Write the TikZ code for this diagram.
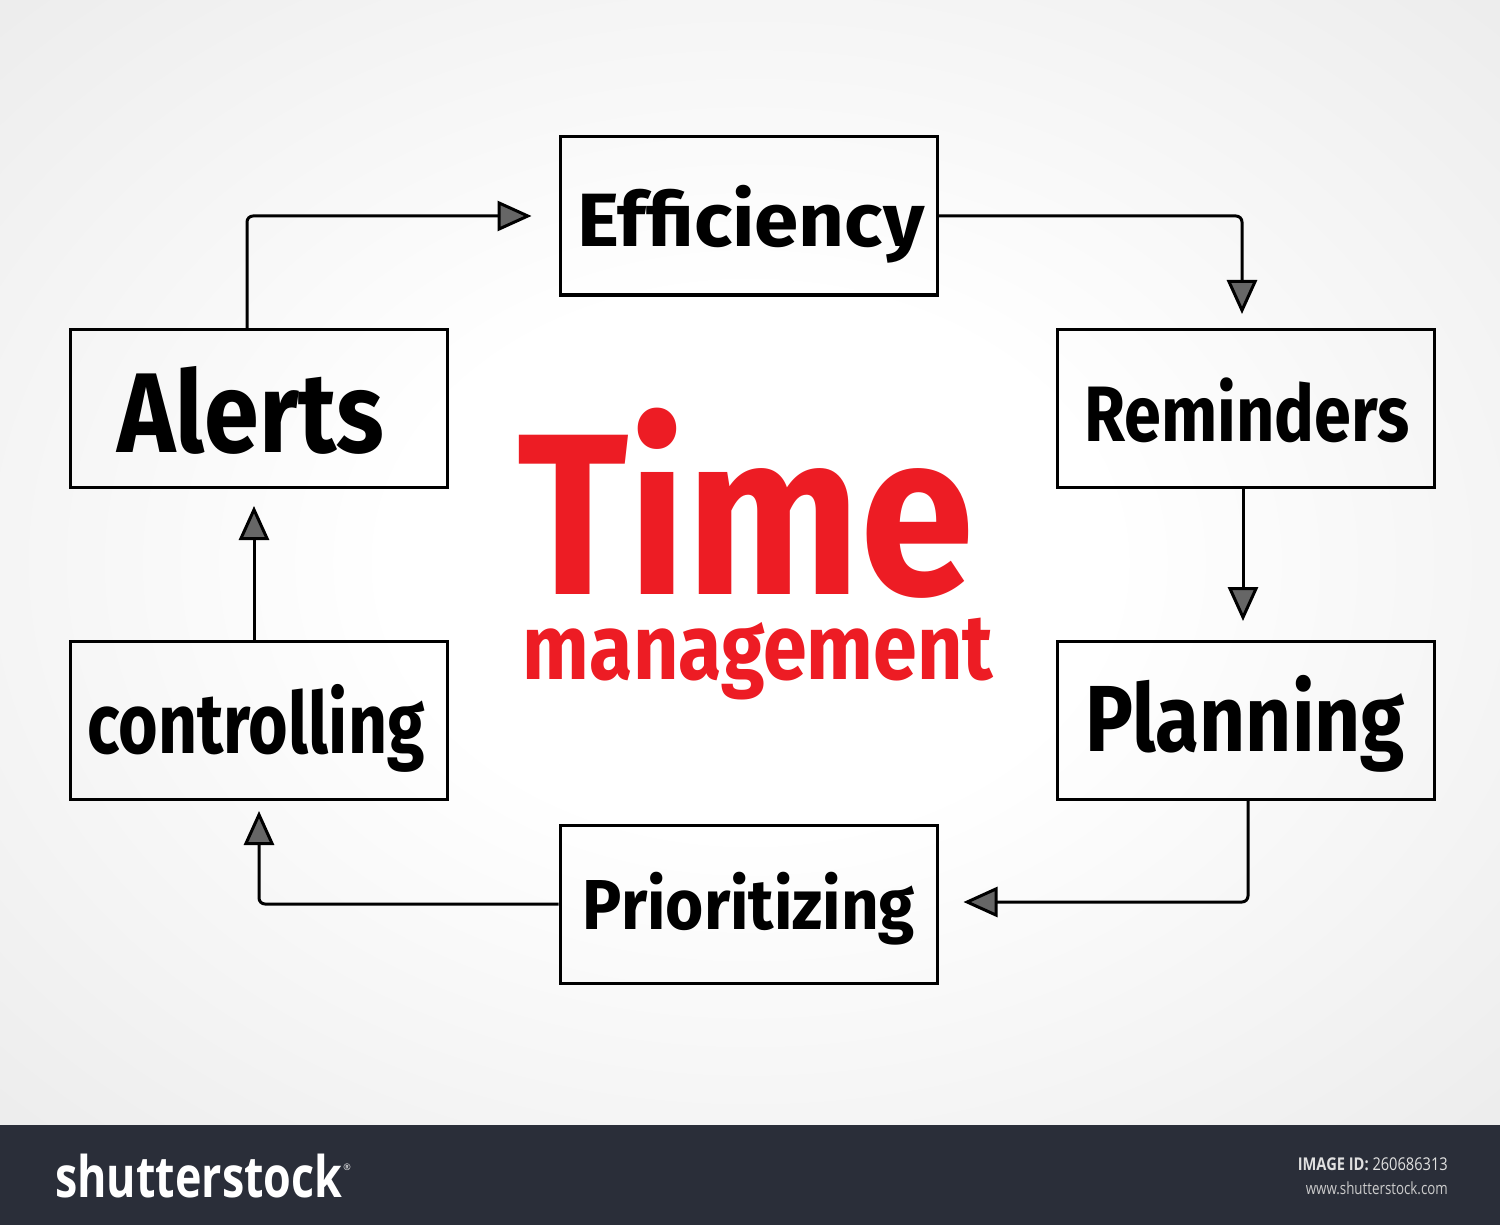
\documentclass[tikz,border=0pt]{standalone}
\usepackage{fontspec}
\usepackage{graphicx}
\setmainfont{Fira Sans}
\newfontfamily\bannerfont{Open Sans}
\usetikzlibrary{arrows.meta}
\definecolor{tmred}{RGB}{237,28,36}
\definecolor{bannerbg}{RGB}{42,46,57}
\definecolor{bgA}{RGB}{229,229,229}
\definecolor{bgB}{RGB}{226,226,226}
\pgfdeclareradialshading{bgshade}{\pgfpoint{0bp}{0bp}}{color(0bp)=(white); color(12bp)=(white); color(45bp)=(bgA); color(71bp)=(bgB)}
\newcommand{\fitbox}[3]{\resizebox*{#1pt}{#2pt}{#3}}
\begin{document}
\begin{tikzpicture}[x=1pt,y=-1pt,
  box/.style={draw=black, line width=3pt, minimum width=377pt, minimum height=158pt, inner sep=0pt},
  lbl/.style={inner sep=0pt, anchor=center},
  arr/.style={line width=3pt, rounded corners=6pt, -{Triangle[length=34pt,width=30pt,fill=black!60]}}
]
\useasboundingbox (0,0) rectangle (1500,1225);
\shade[shading=bgshade] (0,0) rectangle (1500,1125);

% boxes
\node[box] (eff)    at (748.5,216) {};
\node[box] (rem)    at (1246,408.5) {};
\node[box] (plan)   at (1246,720.5) {};
\node[box] (prio)   at (748.5,904) {};
\node[box] (ctrl)   at (259,720.5) {};
\node[box] (alerts) at (259,408.5) {};

% box texts
\node[lbl] (effT)  at (751,224)  {\fitbox{347}{78}{\bfseries Efficiency}};
\node[lbl] (remT)  at (1247,410) {\fitbox{325}{65}{\bfseries Reminders}};
\node[lbl] (planT) at (1245,724) {\fitbox{320}{97}{\bfseries Planning}};
\node[lbl] (prioT) at (749,909)  {\fitbox{332}{73}{\bfseries Prioritizing}};
\node[lbl] (ctrlT) at (256,728)  {\fitbox{337}{88}{\bfseries controlling}};
\node[lbl] (alertsT) at (251,410) {\fitbox{267}{88}{\bfseries Alerts}};

% centre
\node[lbl, text=tmred] (time) at (746,503) {\fitbox{457}{190}{\bfseries Time}};
\node[lbl, text=tmred] (mgmt) at (758,659) {\fitbox{470}{82}{\bfseries management}};

% connectors
\draw[arr] ([xshift=-12pt]alerts.north) |- ([xshift=-27pt]eff.west);
\draw[arr] (eff.east) -| ([xshift=-4pt,yshift=14pt]rem.north);
\draw[arr] ([xshift=-3pt]rem.south) -- ([xshift=-3pt,yshift=19pt]plan.north);
\draw[arr] ([xshift=2pt]plan.south) |- ([xshift=25pt,yshift=2pt]prio.east);
\draw[arr] (prio.west) -| ([yshift=-10pt]ctrl.south);
\draw[arr] ([xshift=-5pt]ctrl.north) -- ([xshift=-5pt,yshift=-17pt]alerts.south);

% banner
\fill[bannerbg] (0,1125) rectangle (1500,1225);
\node[lbl, anchor=west, text=white] (logo) at (55,1176) {\fitbox{287}{44}{\bannerfont\bfseries shutterstock}};
\node[lbl, text=white] (reg) at (347,1167) {\bannerfont\fontsize{9}{9}\selectfont ®};
\node[lbl, anchor=east, text=white!88!black] (imgid) at (1448,1164) {\fitbox{150}{13}{\bannerfont\textbf{IMAGE ID:} 260686313}};
\node[lbl, anchor=east, text=white!80!black] (url) at (1448,1188) {\fitbox{142}{13}{\bannerfont www.shutterstock.com}};
\end{tikzpicture}
\end{document}
